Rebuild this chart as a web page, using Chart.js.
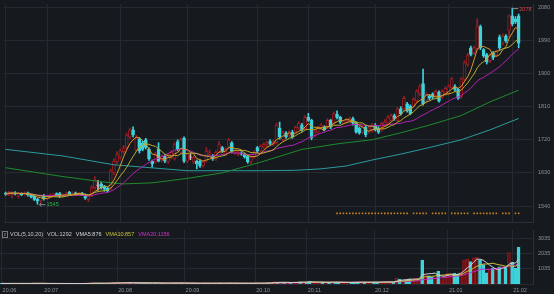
<!DOCTYPE html>
<html>
<head>
<meta charset="utf-8">
<script src="https://cdn.jsdelivr.net/npm/chart.js@4.4.0/dist/chart.umd.min.js"></script>
<style>
  html, body { margin: 0; padding: 0; background: #161a1f; }
  #wrap { position: relative; width: 554px; height: 294px; overflow: hidden; background: #161a1f;
          font-family: "Liberation Sans", Arial, sans-serif; }
  #mainChart { position: absolute; left: 0; top: 0; }
  #volChart { position: absolute; left: 0; top: 226px; }
  #volLegend { position: absolute; left: 2px; top: 231px; font-size: 5.5px; line-height: 7px;
               white-space: nowrap; color: #c8c8c8; }
  #volLegend span { margin-right: 4px; }
  #volLegend .box { display: inline-block; width: 4px; height: 5px; border: 1px solid #777; font-size: 4px;
                    line-height: 5px; text-align: center; margin-right: 2px; vertical-align: top; color: #aaa; }
</style>
</head>
<body>
<div id="wrap">
  <canvas id="mainChart" width="554" height="226"></canvas>
  <canvas id="volChart" width="554" height="68"></canvas>
  <div id="volLegend"><span class="box">Z</span><span>VOL(5,10,20)</span><span>VOL:1292</span><span style="color:#d8d8d8">VMA5:876</span><span style="color:#c9c13a">VMA10:857</span><span style="color:#cc36cc">VMA20:1156</span></div>
</div>
<script>
// month axis
const monthLabels = ['20.06', '20.07', '20.08', '20.09', '20.10', '20.11', '20.12', '21.01', '21.02'];
const monthStart  = [0, 13, 36, 57, 79, 95, 116, 139, 159];
const totalSlots = 166;

// daily candles
const opens = [
  1575,1572,1570,1576,1567,1574,1571,1576,1570,1566,1559,1554,1568,
  1560,1566,1570,1574,1574,1566,1572,1577,1574,1576,1573,1575,1569,1558,1567,1590,1596,1600,1592,1589,1590,1630,1660,
  1673,1688,1698,1728,1747,1692,1722,1712,1720,1694,1662,1660,1694,1665,1675,1660,1672,1668,1715,1686,1725,
  1662,1673,1660,1662,1662,1649,1662,1680,1676,1668,1686,1699,1681,1699,1712,1683,1681,1684,1681,1675,1660,1673,
  1699,1690,1700,1706,1715,1708,1712,1752,1720,1739,1733,1741,1741,1752,1760,1750,
  1781,1773,1733,1741,1752,1754,1754,1773,1765,1789,1781,1765,1768,1770,1778,1765,1752,1741,1754,1741,1745,
  1760,1752,1747,1760,1765,1773,1786,1773,1804,1804,1818,1812,1812,1826,1845,1873,1825,1839,1844,1840,1850,1836,1844,
  1846,1862,1865,1857,1838,1884,1925,1970,1957,1968,2028,1965,1952,1935,1955,1950,1999,1983,2002,2018,
  2057,2049,2057
];
const highs = [
  1578,1580,1579,1579,1577,1576,1579,1578,1572,1568,1561,1569,1572,
  1569,1573,1575,1576,1577,1573,1578,1580,1579,1578,1577,1577,1573,1568,1596,1620,1610,1604,1596,1592,1640,1668,1688,
  1695,1705,1738,1752,1755,1732,1726,1716,1724,1698,1665,1686,1712,1680,1680,1683,1690,1712,1720,1725,1728,
  1684,1682,1676,1665,1665,1663,1699,1692,1680,1690,1715,1702,1698,1724,1715,1692,1690,1688,1684,1678,1676,1690,
  1702,1706,1712,1716,1720,1718,1765,1768,1744,1742,1745,1746,1758,1770,1765,1786,
  1792,1776,1746,1756,1764,1758,1778,1776,1796,1799,1784,1772,1777,1782,1782,1768,1755,1758,1758,1756,1765,
  1764,1756,1768,1775,1786,1790,1790,1808,1810,1838,1822,1815,1835,1856,1870,1912,1848,1843,1848,1856,1853,1856,1864,
  1870,1890,1870,1860,1890,1935,1955,1975,1975,2049,2032,1968,1955,1954,1960,1964,2005,2008,2006,2060,
  2078,2055,2062
];
const lows = [
  1569,1568,1562,1570,1562,1568,1569,1567,1562,1555,1545,1550,1556,
  1558,1563,1566,1567,1563,1563,1569,1570,1571,1570,1570,1568,1558,1552,1565,1586,1583,1586,1580,1578,1585,1625,1655,
  1668,1682,1695,1724,1728,1688,1684,1690,1695,1664,1645,1657,1660,1660,1658,1656,1668,1665,1690,1683,1658,
  1658,1666,1655,1641,1645,1646,1660,1675,1664,1664,1684,1686,1677,1696,1685,1680,1677,1678,1670,1656,1655,1670,
  1685,1686,1696,1700,1706,1704,1708,1722,1716,1724,1729,1724,1738,1748,1743,1746,
  1770,1720,1728,1738,1748,1744,1750,1750,1762,1777,1764,1762,1765,1766,1760,1738,1735,1737,1728,1738,1741,
  1744,1737,1743,1756,1762,1770,1773,1770,1787,1800,1795,1788,1808,1822,1840,1814,1820,1829,1832,1836,1822,1832,1840,
  1842,1858,1852,1830,1833,1880,1920,1948,1952,1965,1965,1944,1926,1930,1938,1946,1965,1978,1985,2000,
  2030,2036,1970
];
const closes = [
  1572,1577,1576,1573,1574,1571,1576,1570,1565,1558,1553,1566,1559,
  1566,1570,1572,1570,1566,1570,1574,1573,1576,1573,1575,1571,1561,1566,1590,1610,1596,1590,1586,1581,1635,1662,1680,
  1690,1698,1733,1747,1733,1725,1690,1694,1699,1668,1655,1681,1662,1676,1662,1678,1686,1707,1694,1720,1662,
  1681,1673,1673,1655,1649,1660,1689,1685,1668,1686,1707,1689,1694,1720,1689,1688,1686,1681,1673,1660,1673,1685,
  1689,1702,1708,1712,1710,1714,1760,1728,1739,1728,1741,1728,1754,1765,1747,1781,
  1773,1725,1741,1752,1760,1747,1773,1754,1791,1781,1768,1768,1773,1778,1765,1741,1739,1754,1733,1752,1760,
  1747,1741,1765,1768,1781,1786,1778,1804,1791,1833,1799,1791,1830,1852,1865,1818,1844,1833,1836,1852,1825,1852,1860,
  1865,1886,1857,1833,1886,1930,1949,1952,1970,2028,1970,1949,1932,1950,1944,1960,1970,2002,1989,2057,
  2036,2041,1983
];
const volumes = [
  40,35,30,45,38,30,42,36,33,50,55,40,38,
  35,30,32,28,36,30,34,29,31,27,33,30,36,42,60,75,55,48,45,40,70,85,80,
  78,70,90,95,88,75,70,65,60,72,66,58,62,55,50,56,60,58,64,60,70,
  52,48,45,50,46,44,58,50,47,52,60,55,48,50,62,55,45,42,48,50,46,52,
  55,60,62,58,70,110,160,120,100,90,95,110,120,105,140,130,
  125,180,120,110,100,105,115,110,140,120,110,100,95,105,110,125,130,115,120,110,120,
  130,125,135,140,130,160,120,400,330,300,280,320,360,380,350,1600,560,540,450,500,870,300,520,
  700,680,720,650,760,1600,1650,1500,1750,1780,1600,1300,750,900,1050,980,1150,1200,1150,2100,
  1450,1050,2450
];

// long averages, read at a few points along the curves
const ma60Idx  = [0, 18, 31, 37, 46, 57, 68, 80, 93, 105, 115, 124, 133, 143, 152, 161];
const ma60Val  = [1644, 1620, 1605, 1600, 1603, 1615, 1630, 1659, 1694, 1710, 1720, 1739, 1760, 1786, 1823, 1855];
const ma120Idx = [0, 18, 34, 57, 80, 91, 99, 107, 115, 124, 133, 143, 152, 161];
const ma120Val = [1694, 1676, 1652, 1636, 1636, 1637, 1641, 1649, 1665, 1681, 1699, 1720, 1747, 1778];

// signal dots under the candles
const markerIdx = [
  104,105,106,107,108,109,110,111,112,113,114,115,116,117,118,119,120,121,122,123,124,125,126,
  128,129,130,131,132, 134,135,136,137,138, 140,141,142,143,144,145,
  147,148,149,150,151,152,153,154, 156,157,158, 160,161
];
const markerLevel = 1520;

const priceTicks = [1540, 1630, 1720, 1810, 1900, 1990, 2080];
const volTicks = [1035, 2035, 3035];

// colours
const BG = '#161a1f';
const GRID = '#262a30';
const TXT = '#8c9096';
const UP = '#9a1c22';
const DOWN = '#3fd2db';
const DOJI = '#c4c4c4';
const TICK_FONT = { size: 5.5 };

Chart.defaults.font.family = '"Liberation Sans", Arial, sans-serif';
Chart.defaults.animation = false;

const labels = Array.from({ length: totalSlots }, (_, i) => String(i));
const dirs = opens.map((o, i) => Math.sign(closes[i] - o));
const upDown = (u, d, z) => dirs.map(v => v > 0 ? u : v < 0 ? d : z);

function movingAvg(src, n) {
  return src.map((_, i) => {
    const part = src.slice(Math.max(0, i - n + 1), i + 1);
    return part.reduce((a, b) => a + b, 0) / part.length;
  });
}
function sparse(idx, val) {
  const out = new Array(opens.length).fill(null);
  idx.forEach((k, j) => { out[k] = val[j]; });
  return out;
}
const isMonth = i => monthStart.includes(i);

const lineDs = (data, color, order) => ({
  type: 'line', data, borderColor: color, borderWidth: 1, pointRadius: 0,
  tension: 0, spanGaps: true, order
});

// labels for the highest high and lowest low
const extremaLabels = {
  id: 'extremaLabels',
  afterDatasetsDraw(chart) {
    const { ctx, scales: { x, y } } = chart;
    const hi = highs.indexOf(Math.max(...highs));
    const lo = lows.indexOf(Math.min(...lows));
    ctx.save();
    ctx.font = '5.5px "Liberation Sans", Arial, sans-serif';
    ctx.textBaseline = 'middle';
    ctx.lineWidth = 1;
    let px = x.getPixelForValue(hi), py = y.getPixelForValue(highs[hi]);
    ctx.strokeStyle = '#8a8a8a';
    ctx.beginPath(); ctx.moveTo(px, py + 0.5); ctx.lineTo(px + 6, py + 0.5); ctx.stroke();
    ctx.fillStyle = '#e23a3f';
    ctx.fillText(String(highs[hi]), px + 7, py + 1.5);
    px = x.getPixelForValue(lo); py = y.getPixelForValue(lows[lo]);
    ctx.beginPath(); ctx.moveTo(px + 2, py + 0.5); ctx.lineTo(px + 8, py + 0.5);
    ctx.moveTo(px + 2, py + 0.5); ctx.lineTo(px + 4, py - 1.5);
    ctx.moveTo(px + 2, py + 0.5); ctx.lineTo(px + 4, py + 2.5); ctx.stroke();
    ctx.fillStyle = '#2fae4a';
    ctx.fillText(String(lows[lo]), px + 9, py + 0.5);
    ctx.restore();
  }
};

const bgFill = {
  id: 'bgFill',
  beforeDraw(chart) {
    const { ctx, width, height } = chart;
    ctx.save(); ctx.fillStyle = BG; ctx.fillRect(0, 0, width, height); ctx.restore();
  }
};

new Chart(document.getElementById('mainChart'), {
  type: 'bar',
  data: {
    labels,
    datasets: [
      lineDs(movingAvg(closes, 5), '#d39a2c', 1),
      lineDs(movingAvg(closes, 10), '#b9ad2e', 1),
      lineDs(movingAvg(closes, 20), '#b522b5', 1),
      lineDs(sparse(ma60Idx, ma60Val), '#1f8a2c', 1),
      lineDs(sparse(ma120Idx, ma120Val), '#2a9a9e', 1),
      {
        type: 'line', data: sparse(markerIdx, markerIdx.map(() => markerLevel)),
        showLine: false, pointStyle: 'rect', pointRadius: 1.1, pointBorderWidth: 0,
        pointBackgroundColor: '#d1861c', order: 1
      },
      {
        label: 'body', data: opens.map((o, i) => [o, closes[i] === o ? o + 0.8 : closes[i]]),
        backgroundColor: upDown(BG, DOWN, DOJI), borderColor: upDown(UP, DOWN, DOJI),
        borderWidth: 1, borderSkipped: false, barThickness: 3, grouped: false, order: 2
      },
      {
        label: 'wick', data: lows.map((l, i) => [l, highs[i]]),
        backgroundColor: upDown(UP, DOWN, DOJI), borderWidth: 0,
        barThickness: 1, grouped: false, order: 3
      }
    ]
  },
  options: {
    responsive: false,
    devicePixelRatio: 1,
    layout: { padding: 0 },
    plugins: { legend: { display: false }, tooltip: { enabled: false } },
    scales: {
      x: {
        offset: true,
        grid: { offset: false, drawTicks: false, color: c => isMonth(c.index) ? GRID : 'rgba(0,0,0,0)' },
        border: { display: true, color: '#2c3036' },
        ticks: { display: false, autoSkip: false },
        afterFit: s => { s.height = 1; }
      },
      y: {
        position: 'right', min: 1496.5, max: 2089.2,
        afterBuildTicks: s => { s.ticks = priceTicks.map(v => ({ value: v })); },
        grid: { color: GRID, drawTicks: false },
        border: { display: true, color: '#2c3036' },
        ticks: { color: TXT, font: TICK_FONT, padding: 5, callback: v => String(v) },
        afterFit: s => { s.width = 21; s.paddingTop = 0; s.paddingBottom = 0; }
      }
    }
  },
  plugins: [bgFill, extremaLabels]
});

new Chart(document.getElementById('volChart'), {
  type: 'bar',
  data: {
    labels,
    datasets: [
      lineDs(movingAvg(volumes, 5), '#d0d0d0', 1),
      lineDs(movingAvg(volumes, 10), '#c9c13a', 1),
      lineDs(movingAvg(volumes, 20), '#c72ac7', 1),
      {
        data: volumes,
        backgroundColor: upDown('rgba(90,10,14,0.55)', DOWN, DOJI), borderColor: upDown('#8a1a1f', DOWN, DOJI),
        borderWidth: 1, borderSkipped: false, barThickness: 3, grouped: false, order: 2
      }
    ]
  },
  options: {
    responsive: false,
    devicePixelRatio: 1,
    layout: { padding: { top: 4 } },
    plugins: { legend: { display: false }, tooltip: { enabled: false } },
    scales: {
      x: {
        offset: true,
        grid: { offset: false, drawTicks: false, color: c => isMonth(c.index) ? GRID : 'rgba(0,0,0,0)' },
        border: { display: true, color: GRID },
        ticks: {
          autoSkip: false, maxRotation: 0, align: 'start', padding: 3, labelOffset: 1,
          color: TXT, font: TICK_FONT,
          callback: (v, i) => isMonth(i) ? monthLabels[monthStart.indexOf(i)] : ''
        },
        afterFit: s => { s.height = 10; s.paddingLeft = 0; s.paddingRight = 0; }
      },
      y: {
        position: 'right', min: 0, max: 3605,
        afterBuildTicks: s => { s.ticks = volTicks.map(v => ({ value: v })); },
        grid: { color: GRID, drawTicks: false },
        border: { display: true, color: '#2c3036' },
        ticks: { color: TXT, font: TICK_FONT, padding: 5, callback: v => String(v) },
        afterFit: s => { s.width = 21; s.paddingTop = 0; s.paddingBottom = 0; }
      }
    }
  },
  plugins: [bgFill]
});
</script>
</body>
</html>
